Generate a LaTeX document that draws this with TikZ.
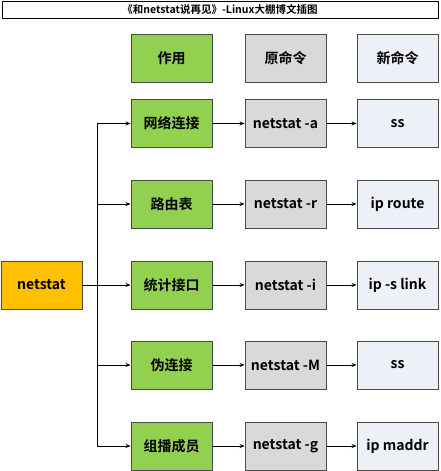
\documentclass[tikz,border=0pt]{standalone}
\usepackage{fontspec}
\setmainfont{Noto Sans CJK SC}[BoldFont=* Bold]
\usetikzlibrary{arrows.meta}
\definecolor{cgreen}{HTML}{92D050}
\definecolor{cgray}{HTML}{D9D9D9}
\definecolor{clight}{HTML}{EEF0F8}
\definecolor{corange}{HTML}{FFC000}
\definecolor{cborder}{HTML}{4A4A4A}
\tikzset{
  box/.style={draw=cborder, line width=0.9pt, minimum width=81pt, minimum height=48pt, inner sep=0pt, font=\fontsize{14}{16}\selectfont\bfseries},
  gbox/.style={box, fill=cgreen},
  rbox/.style={box, fill=cgray},
  lbox/.style={box, fill=clight},
  obox/.style={box, fill=corange},
  conn/.style={line width=0.8pt, -{Stealth[length=5pt,width=4pt]}},
  plain/.style={line width=0.8pt}
}
\begin{document}
\begin{tikzpicture}[x=1pt,y=-1pt]
\useasboundingbox (0,0) rectangle (440,471);
\fill[white] (0,0) rectangle (440,471);
\node[draw=black, line width=0.7pt, minimum width=436pt, minimum height=17pt, inner sep=0pt, font=\fontsize{10.5}{12}\selectfont\bfseries] (title) at (220,9.5) {《和netstat说再见》-Linux大棚博文插图};
\node[gbox] (h1) at (171.5,58.5) {作用};
\node[rbox] (h2) at (285.5,58.5) {原命令};
\node[lbox] (h3) at (397.5,58.5) {新命令};
\node[obox] (ns) at (41.5,285) {netstat};
\coordinate (vtop) at (97,123.5);
\coordinate (vbot) at (97,446);
\coordinate (vmid) at (97,285);
\draw[plain] (vtop) -- (vbot);
\draw[plain] (ns.east) -- (vmid);
\foreach \i/\y/\a/\b/\c in {1/123.5/网络连接/netstat -a/ss, 2/204/路由表/netstat -r/ip route, 3/285/统计接口/netstat -i/ip -s link, 4/365/伪连接/netstat -M/ss, 5/446/组播成员/netstat -g/ip maddr}{
  \node[gbox] (g\i) at (171.5,\y) {\a};
  \node[rbox] (r\i) at (285.5,\y) {\b};
  \node[lbox] (l\i) at (397.5,\y) {\c};
  \coordinate (b\i) at (97,\y);
  \draw[conn] (b\i) -- (g\i.west);
  \draw[conn] (g\i.east) -- (r\i.west);
  \draw[conn] (r\i.east) -- (l\i.west);
}
\end{tikzpicture}
\end{document}
